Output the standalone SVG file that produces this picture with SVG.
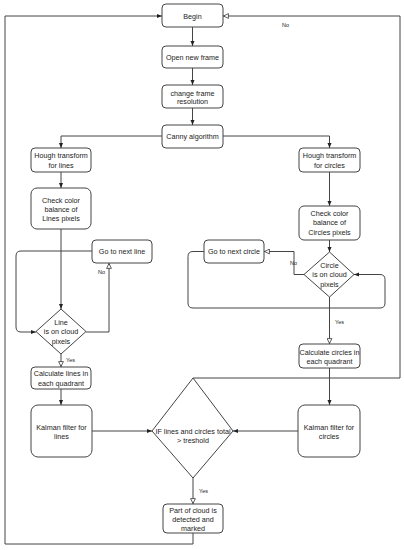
<svg xmlns="http://www.w3.org/2000/svg" width="404" height="550" viewBox="0 0 404 550">
<defs>
<marker id="af" viewBox="0 0 10 10" refX="10" refY="5" markerWidth="5" markerHeight="5" orient="auto"><path d="M0,1 L10,5 L0,9 Z" fill="#222"/></marker>
<marker id="ao" viewBox="0 0 10 10" refX="10" refY="5" markerWidth="6" markerHeight="6" orient="auto"><path d="M1,1 L9,5 L1,9 Z" fill="#fff" stroke="#222" stroke-width="1.2"/></marker>
<style>
.n{fill:#fff;stroke:#444;stroke-width:1}
.t{font-family:"Liberation Sans",Arial,sans-serif;font-size:7.2px;fill:#222;text-anchor:middle}
.s{font-family:"Liberation Sans",Arial,sans-serif;font-size:5.5px;fill:#222}
.c{fill:none;stroke:#444;stroke-width:1}
</style>
</defs>
<rect width="404" height="550" fill="#fff"/>
<g id="connectors">
<path class="c" d="M192.5,27 V46" marker-end="url(#af)"/>
<path class="c" d="M192.5,68 V85" marker-end="url(#af)"/>
<path class="c" d="M192.5,108 V125" marker-end="url(#af)"/>
<path class="c" d="M162,136 H61 V148" marker-end="url(#af)"/>
<path class="c" d="M223,136 H329.5 V148" marker-end="url(#af)"/>
<path class="c" d="M61,172 V188" marker-end="url(#af)"/>
<path class="c" d="M329.5,172 V206" marker-end="url(#af)"/>
<path class="c" d="M61,229 V309" marker-end="url(#af)"/>
<path class="c" d="M329.5,240 V252" marker-end="url(#af)"/>
<path class="c" d="M92,251 H21 Q16,251 16,256 V327 Q16,332 21,332 H36" marker-end="url(#af)"/>
<path class="c" d="M86,332 H109 V263" marker-end="url(#ao)"/>
<path class="c" d="M304,274.5 H294 V251.5 H264" marker-end="url(#ao)"/>
<path class="c" d="M204,251.5 H193 Q188,251.5 188,256.5 V303 Q188,308 193,308 H380 Q385,308 385,303 V279.5 Q385,274.5 380,274.5 H354" marker-end="url(#af)"/>
<path class="c" d="M61,354 V367" marker-end="url(#ao)"/>
<path class="c" d="M329.5,297 V344" marker-end="url(#ao)"/>
<path class="c" d="M61,389 V405" marker-end="url(#af)"/>
<path class="c" d="M329.5,368 V405" marker-end="url(#af)"/>
<path class="c" d="M92,431 H152" marker-end="url(#af)"/>
<path class="c" d="M298,431 H233" marker-end="url(#af)"/>
<path class="c" d="M193,378 H400 V16 H223" marker-end="url(#ao)"/>
<path class="c" d="M193,478 V504" marker-end="url(#ao)"/>
<path class="c" d="M193,533 V544 H5 V16 H162" marker-end="url(#af)"/>
<text class="s" x="282" y="27">No</text>
<text class="s" x="98" y="274">No</text>
<text class="s" x="290" y="265">No</text>
<text class="s" x="66" y="362">Yes</text>
<text class="s" x="335" y="324">Yes</text>
<text class="s" x="199" y="493">Yes</text>
</g>
<g id="begin"><rect class="n" x="162" y="4" width="61" height="23" rx="4"/><text class="t" x="192.5" y="18.5">Begin</text></g>
<g id="open"><rect class="n" x="162" y="46" width="61" height="22" rx="4"/><text class="t" x="192.5" y="59.5">Open new frame</text></g>
<g id="resolution"><rect class="n" x="162" y="85" width="61" height="23" rx="4"/><text class="t" x="192.5" y="95.5">change frame</text><text class="t" x="192.5" y="104">resolution</text></g>
<g id="canny"><rect class="n" x="162" y="125" width="61" height="23" rx="4"/><text class="t" x="192.5" y="139">Canny algorithm</text></g>
<g id="houghLines"><rect class="n" x="31" y="148" width="60" height="24" rx="4"/><text class="t" x="61" y="158">Hough transform</text><text class="t" x="61" y="167.5">for lines</text></g>
<g id="houghCircles"><rect class="n" x="299" y="148" width="61" height="24" rx="4"/><text class="t" x="329.5" y="158">Hough transform</text><text class="t" x="329.5" y="167.5">for circles</text></g>
<g id="checkLines"><rect class="n" x="31" y="188" width="60" height="41" rx="6"/><text class="t" x="61" y="202.5">Check color</text><text class="t" x="61" y="211.5">balance of</text><text class="t" x="61" y="220.5">Lines pixels</text></g>
<g id="checkCircles"><rect class="n" x="299" y="206" width="61" height="34" rx="5"/><text class="t" x="329.5" y="215.5">Check color</text><text class="t" x="329.5" y="225">balance of</text><text class="t" x="329.5" y="235">Circles pixels</text></g>
<g id="nextLine"><rect class="n" x="92" y="240" width="60" height="23" rx="4"/><text class="t" x="122" y="254">Go to next line</text></g>
<g id="nextCircle"><rect class="n" x="204" y="240" width="60" height="23" rx="4"/><text class="t" x="234" y="254">Go to next circle</text></g>
<g id="lineDecision"><path class="n" d="M61,309 L86,331.5 L61,354 L36,331.5 Z"/><text class="t" x="61" y="324.5">Line</text><text class="t" x="61" y="333.5">is on cloud</text><text class="t" x="61" y="343.5">pixels</text></g>
<g id="circleDecision"><path class="n" d="M329.5,252 L354,274.5 L329.5,297 L304,274.5 Z"/><text class="t" x="329.5" y="267.5">Circle</text><text class="t" x="329.5" y="276.5">is on cloud</text><text class="t" x="329.5" y="287">pixels</text></g>
<g id="calcLines"><rect class="n" x="31" y="367" width="60" height="22" rx="4"/><text class="t" x="61" y="375.5">Calculate lines in</text><text class="t" x="61" y="385.5">each quadrant</text></g>
<g id="calcCircles"><rect class="n" x="299" y="344" width="61" height="24" rx="4"/><text class="t" x="329.5" y="354.5">Calculate circles in</text><text class="t" x="329.5" y="363.5">each quadrant</text></g>
<g id="kalmanLines"><rect class="n" x="31" y="405" width="61" height="52" rx="7"/><text class="t" x="61.5" y="429.5">Kalman filter for</text><text class="t" x="61.5" y="438.5">lines</text></g>
<g id="kalmanCircles"><rect class="n" x="298" y="405" width="62" height="52" rx="7"/><text class="t" x="329" y="429.5">Kalman filter for</text><text class="t" x="329" y="438.5">circles</text></g>
<g id="threshold"><path class="n" d="M193,378 L233,431 L193,478 L152,431 Z"/><text class="t" x="193" y="433.5">IF lines and circles total</text><text class="t" x="193" y="442.5">&gt; treshold</text></g>
<g id="detected"><rect class="n" x="163" y="504" width="60" height="29" rx="4"/><text class="t" x="193" y="512.5">Part of cloud is</text><text class="t" x="193" y="521.5">detected and</text><text class="t" x="193" y="530.5">marked</text></g>
</svg>
